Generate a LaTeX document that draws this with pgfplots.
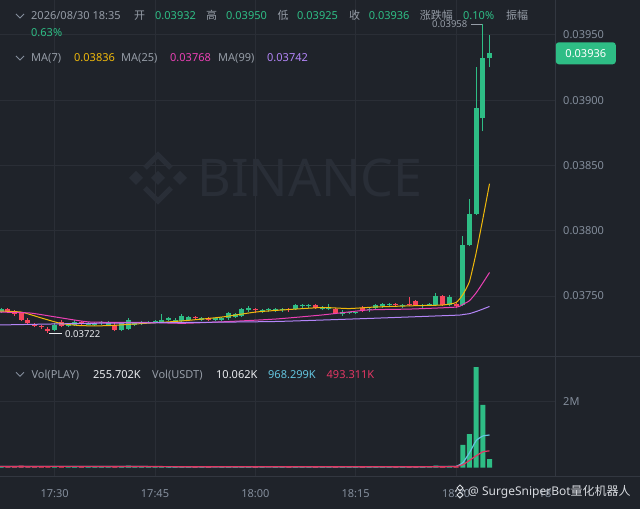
\documentclass[border=0pt]{standalone}
\usepackage{pgfplots}
\pgfplotsset{compat=1.18}
\usepackage{pgfplotstable}
\usepackage{fontspec}
\setmainfont{Noto Sans}
\newfontfamily\cjk{Noto Sans CJK SC}

\definecolor{bg}{RGB}{31,35,42}
\definecolor{gridc}{RGB}{42,46,54}
\definecolor{sepc}{RGB}{50,55,64}
\definecolor{cgreen}{RGB}{46,189,133}
\definecolor{cred}{RGB}{246,70,93}
\definecolor{lblgray}{RGB}{132,142,156}
\definecolor{txtgray}{RGB}{150,157,167}
\definecolor{ma7}{RGB}{240,185,11}
\definecolor{ma25}{RGB}{235,64,181}
\definecolor{ma99}{RGB}{179,133,248}
\definecolor{vcyan}{RGB}{99,196,222}
\definecolor{vred}{RGB}{226,55,100}
\definecolor{wm}{RGB}{41,46,55}
\definecolor{wmtext}{RGB}{214,217,222}
\definecolor{whitet}{RGB}{234,236,239}

% minute index (minutes after 17:00), open, high, low, close, volume (millions)
\pgfplotstableread{
t o h l c v
22 0.03738 0.03741 0.03737 0.03740 0.03
30 0.03724 0.03729 0.03723 0.03728 0.04
32 0.03727 0.03729 0.03726 0.03728 0.02
33 0.03728 0.03732 0.03727 0.03730 0.03
35 0.03728 0.03730 0.03728 0.03729 0.02
36 0.03728 0.03730 0.03727 0.03729 0.02
37 0.03729 0.03731 0.03728 0.03730 0.02
38 0.03728 0.03731 0.03727 0.03730 0.03
40 0.03724 0.03730 0.03723 0.03729 0.04
41 0.03725 0.03733 0.03724 0.03732 0.06
42 0.03728 0.03730 0.03727 0.03729 0.02
43 0.03729 0.03731 0.03728 0.03730 0.02
44 0.03729 0.03731 0.03729 0.03730 0.02
45 0.03730 0.03732 0.03729 0.03731 0.02
46 0.03730 0.03736 0.03729 0.03732 0.03
47 0.03732 0.03734 0.03731 0.03733 0.02
48 0.03731 0.03733 0.03730 0.03732 0.02
49 0.03731 0.03736 0.03730 0.03735 0.04
50 0.03732 0.03735 0.03731 0.03734 0.02
52 0.03732 0.03734 0.03731 0.03733 0.02
54 0.03732 0.03733 0.03731 0.03733 0.01
55 0.03732 0.03734 0.03731 0.03733 0.02
56 0.03733 0.03738 0.03732 0.03737 0.04
57 0.03734 0.03737 0.03733 0.03736 0.02
58 0.03735 0.03741 0.03734 0.03740 0.04
59 0.03739 0.03742 0.03738 0.03741 0.02
61 0.03738 0.03740 0.03737 0.03739 0.02
62 0.03739 0.03741 0.03738 0.03740 0.01
63 0.03739 0.03741 0.03738 0.03740 0.02
64 0.03739 0.03741 0.03738 0.03740 0.02
66 0.03740 0.03744 0.03739 0.03743 0.03
67 0.03742 0.03744 0.03741 0.03743 0.02
68 0.03742 0.03744 0.03741 0.03743 0.02
70 0.03740 0.03742 0.03739 0.03741 0.02
71 0.03740 0.03744 0.03739 0.03741 0.03
73 0.03736 0.03739 0.03735 0.03738 0.03
74 0.03737 0.03738 0.03736 0.03738 0.02
75 0.03737 0.03738 0.03736 0.03738 0.02
77 0.03739 0.03741 0.03738 0.03740 0.02
78 0.03741 0.03744 0.03740 0.03743 0.02
79 0.03742 0.03745 0.03741 0.03744 0.03
80 0.03743 0.03745 0.03742 0.03744 0.02
82 0.03742 0.03744 0.03741 0.03743 0.02
85 0.03742 0.03744 0.03741 0.03743 0.02
86 0.03743 0.03745 0.03742 0.03744 0.02
87 0.03743 0.03752 0.03742 0.03750 0.06
89 0.03743 0.03751 0.03742 0.03749 0.05
91 0.03743 0.03796 0.03742 0.03789 0.69
92 0.03789 0.03824 0.03788 0.03813 1.02
93 0.03813 0.03925 0.03812 0.03894 3.05
94 0.03886 0.03958 0.03876 0.03932 1.90
95 0.03932 0.03950 0.03925 0.03936 0.256
}\greentab

\pgfplotstableread{
t o h l c v
23 0.03740 0.03741 0.03737 0.03738 0.04
24 0.03738 0.03739 0.03735 0.03736 0.03
25 0.03737 0.03738 0.03731 0.03732 0.06
26 0.03732 0.03733 0.03728 0.03729 0.05
27 0.03728 0.03729 0.03726 0.03727 0.03
28 0.03727 0.03728 0.03725 0.03726 0.03
29 0.03725 0.03726 0.03722 0.03723 0.04
31 0.03730 0.03732 0.03726 0.03727 0.05
34 0.03730 0.03731 0.03728 0.03729 0.02
39 0.03728 0.03729 0.03723 0.03724 0.05
51 0.03734 0.03735 0.03732 0.03733 0.02
53 0.03733 0.03734 0.03731 0.03732 0.02
60 0.03740 0.03741 0.03737 0.03739 0.02
65 0.03740 0.03741 0.03738 0.03739 0.02
69 0.03743 0.03744 0.03740 0.03741 0.03
72 0.03740 0.03741 0.03736 0.03737 0.04
76 0.03741 0.03742 0.03738 0.03739 0.03
81 0.03744 0.03745 0.03742 0.03743 0.02
83 0.03744 0.03749 0.03742 0.03743 0.03
84 0.03746 0.03747 0.03742 0.03743 0.03
88 0.03750 0.03751 0.03742 0.03743 0.04
90 0.03744 0.03745 0.03741 0.03742 0.02
}\redtab

\pgfplotsset{
  panel/.style={
    scale only axis, width=555bp,
    xmin=21.83, xmax=104.79,
    axis line style={draw=none},
    major tick length=0pt,
    scaled y ticks=false, scaled x ticks=false,
    yticklabel pos=right,
    yticklabel style={anchor=west, inner sep=0pt, xshift=8bp, text=lblgray},
    grid=major,
    major grid style={draw=gridc, line width=0.8bp},
  },
  wick/.style={draw=none, mark=none, forget plot,
    error bars/.cd, y dir=plus, y explicit, error mark=none,
    error bar style={line width=1bp, draw=#1, solid}},
  body/.style={draw=none, mark=none, forget plot,
    error bars/.cd, y dir=plus, y explicit, error mark=none,
    error bar style={line width=5bp, draw=#1, solid}},
}

\newcommand{\chev}[2]{\draw[lblgray, line width=0.9bp] (#1,#2-2) -- (#1+4,#2+2) -- (#1+8,#2-2);}

\begin{document}
\begin{tikzpicture}[x=1bp, y=1bp, font=\fontsize{11bp}{13bp}\selectfont]
\fill[bg] (0,0) rectangle (640,509);

% faint exchange watermark (drawn under the price panel)
\begin{scope}[shift={(0bp,509bp)}, y=-1bp]
\fill[wm] (158,171) -- (165,178) -- (158,185) -- (151,178) -- cycle;
\fill[wm] (136,171) -- (143,178) -- (136,185) -- (129,178) -- cycle;
\fill[wm] (180,171) -- (187,178) -- (180,185) -- (173,178) -- cycle;
\draw[wm, line width=5bp] (145,168) -- (158,155) -- (171,168);
\draw[wm, line width=5bp] (145,188) -- (158,201) -- (171,188);
\node[anchor=west, inner sep=0pt, text=wm, font=\fontsize{52bp}{52bp}\selectfont\bfseries] at (197,178) {BINANCE};
\end{scope}

% price panel
\begin{axis}[panel, at={(0bp,152bp)}, anchor=south west, height=357bp,
  ymin=0.037033, ymax=0.039767,
  xtick={30,45,60,75,90}, xticklabels={},
  ytick={0.0375,0.038,0.0385,0.039,0.0395},
  yticklabels={0.03750,0.03800,0.03850,0.03900,0.03950}]
\addplot[wick=cgreen] table[x=t, y=l, y error plus expr=\thisrow{h}-\thisrow{l}] {\greentab};
\addplot[wick=cred] table[x=t, y=l, y error plus expr=\thisrow{h}-\thisrow{l}] {\redtab};
\addplot[body=cgreen] table[x=t, y=o, y error plus expr=\thisrow{c}-\thisrow{o}] {\greentab};
\addplot[body=cred] table[x=t, y=c, y error plus expr=\thisrow{o}-\thisrow{c}] {\redtab};
% MA(7)
\addplot[ma7, line width=1bp, smooth, tension=0.3] coordinates {
(21.5,0.037385) (25,0.037377) (28,0.037332) (31,0.037289) (34,0.037273)
(38,0.037273) (43,0.037289) (49,0.037309) (55,0.037339) (60,0.037377)
(64,0.037393) (70,0.037412) (74,0.037404) (78,0.037416) (84,0.037426)
(88,0.037431) (90,0.03745) (91,0.03751) (92,0.03761) (93,0.03783)
(94,0.03809) (95,0.03836)};
% MA(25)
\addplot[ma25, line width=1bp, smooth, tension=0.3] coordinates {
(21.5,0.037377) (26.3,0.03737) (30.8,0.037334) (35.3,0.037301) (44.2,0.037297)
(49.3,0.037291) (56.2,0.037305) (63.1,0.037324) (70,0.037355) (76.8,0.037393)
(83.1,0.0374) (90,0.037415) (91,0.037436) (92,0.037464) (93,0.037524)
(94,0.0376) (95,0.03768)};
% MA(99)
\addplot[ma99, line width=1bp, smooth, tension=0.3] coordinates {
(21.5,0.037278) (35.5,0.037291) (49.3,0.037297) (63.1,0.037305) (76.8,0.037328)
(90,0.037353) (91,0.037358) (92,0.037365) (93,0.037381) (94,0.0374) (95,0.03742)};
\end{axis}

% volume panel
\begin{axis}[panel, at={(0bp,32.3bp)}, anchor=south west, height=119.7bp,
  ymin=-0.273, ymax=3.355,
  xtick={30,45,60,75,90}, xticklabels={17:30,17:45,18:00,18:15,18:30},
  xticklabel style={anchor=north, inner sep=0pt, yshift=-13bp, text=lblgray},
  ytick={2}, yticklabels={2M}]
\addplot[ybar, bar width=5bp, bar shift=0pt, fill=cgreen, draw=none] table[x=t, y=v] {\greentab};
\addplot[ybar, bar width=5bp, bar shift=0pt, fill=cred, draw=none] table[x=t, y=v] {\redtab};
\addplot[vcyan, line width=1.2bp, smooth, tension=0.3] coordinates {
(21.5,0.035) (30,0.04) (40,0.035) (50,0.03) (60,0.025) (70,0.025) (80,0.025)
(88,0.035) (89,0.04) (90,0.04) (91,0.15) (92,0.45) (93,0.82) (94,0.96) (95,0.99)};
\addplot[vred, line width=1.2bp, smooth, tension=0.3] coordinates {
(21.5,0.04) (30,0.04) (40,0.038) (50,0.03) (60,0.028) (70,0.026) (80,0.026)
(88,0.03) (89,0.035) (90,0.037) (91,0.09) (92,0.22) (93,0.36) (94,0.48) (95,0.51)};
\end{axis}

\begin{scope}[shift={(0bp,509bp)}, y=-1bp]
% separators
\draw[sepc, line width=1bp] (0,357) -- (640,357);
\draw[sepc, line width=1bp] (0,476.7) -- (640,476.7);
\draw[sepc, line width=1bp] (555,0) -- (555,476.7);

% header
\chev{16}{16}
\begin{scope}[every node/.style={anchor=base west, inner sep=0pt}]
\node[text=txtgray] at (31,20) {2026/08/30 18:35};
\node[text=txtgray] at (134,20) {\cjk 开};
\node[text=cgreen] at (155,20) {0.03932};
\node[text=txtgray] at (206,20) {\cjk 高};
\node[text=cgreen] at (226,20) {0.03950};
\node[text=txtgray] at (277.5,20) {\cjk 低};
\node[text=cgreen] at (297,20) {0.03925};
\node[text=txtgray] at (349,20) {\cjk 收};
\node[text=cgreen] at (368.6,20) {0.03936};
\node[text=txtgray] at (419.6,20) {\cjk 涨跌幅};
\node[text=cgreen] at (463,20) {0.10\%};
\node[text=txtgray] at (506,20) {\cjk 振幅};
\node[text=cgreen] at (31,36.7) {0.63\%};

\node[text=txtgray] at (31,62) {MA(7)};
\node[text=ma7] at (74,62) {0.03836};
\node[text=txtgray] at (121,62) {MA(25)};
\node[text=ma25] at (170,62) {0.03768};
\node[text=txtgray] at (218,62) {MA(99)};
\node[text=ma99] at (267,62) {0.03742};

\node[text=txtgray] at (31.4,378.3) {Vol(PLAY)};
\node[text=whitet] at (93,378.3) {255.702K};
\node[text=txtgray] at (152,378.3) {Vol(USDT)};
\node[text=whitet] at (216,378.3) {10.062K};
\node[text=vcyan] at (268,378.3) {968.299K};
\node[text=vred] at (326.5,378.3) {493.311K};
\end{scope}
\chev{16}{58}
\chev{16}{374.3}

% high / low markers
\draw[txtgray, line width=0.8bp] (471.4,24) -- (482.4,24);
\node[anchor=east, inner sep=0pt, text=txtgray, font=\fontsize{9.5bp}{11bp}\selectfont] at (467.5,24.5) {0.03958};
\draw[whitet, line width=0.8bp] (49.3,333.3) -- (61.7,333.3);
\node[anchor=west, inner sep=0pt, text=whitet, font=\fontsize{9.5bp}{11bp}\selectfont] at (65,334) {0.03722};

% last price tag
\node[fill=cgreen, rounded corners=3bp, minimum width=60bp, minimum height=22bp, inner sep=0pt, text=white] at (585.8,53.3) {0.03936};

% last time label, beyond the panel edge
\node[text=lblgray, anchor=north, inner sep=0pt] at (545,489.7) {18};

% bottom-right watermark
\begin{scope}[wmtext, line width=0.8bp]
\draw (460,485) -- (463,488) -- (460,491) -- (457,488) -- cycle;
\draw (460,492) -- (463,495) -- (460,498) -- (457,495) -- cycle;
\draw (455,491.5) -- (457,489.5);
\draw (465,491.5) -- (463,489.5);
\end{scope}
\node[anchor=west, inner sep=0pt, text=wmtext, font=\fontsize{12bp}{14bp}\selectfont] at (468,491.7) {@ SurgeSniperBot{\cjk 量化机器人}};
\end{scope}

\pgfresetboundingbox
\path[use as bounding box] (0,0) rectangle (640,509);
\end{tikzpicture}
\end{document}
